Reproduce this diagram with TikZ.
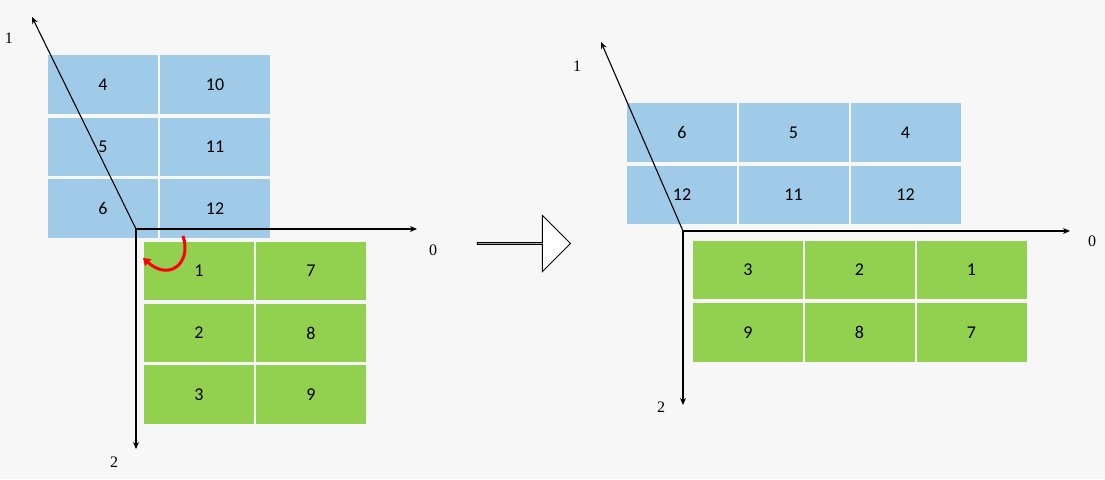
\documentclass[tikz,border=0pt]{standalone}
\usepackage{fontspec}
\setmainfont{Carlito}
\newfontfamily\axfont{Liberation Serif}
\usetikzlibrary{arrows.meta,shapes.arrows}
\definecolor{bg}{HTML}{F7F7F7}
\definecolor{bl}{HTML}{A0CBE8}
\definecolor{gr}{HTML}{92D050}
\begin{document}
\begin{tikzpicture}[x=1pt,y=-1pt,
  cell/.style={draw=none,minimum width=110pt,minimum height=58.5pt,inner sep=0,font=\fontsize{18}{20}\selectfont},
  b/.style={cell,fill=bl},
  g/.style={cell,fill=gr},
  ax/.style={line width=1.1pt,-{Stealth[length=7pt,width=6pt]}},
  lab/.style={font=\axfont\fontsize{16}{18}\selectfont}]
\fill[bg] (0,0) rectangle (1105,479);
\useasboundingbox (0,0) rectangle (1105,479);
% left blue
\node[b] (l4) at (103,84.5) {4};
\node[b] (l10) at (215,84.5) {10};
\node[b] (l5) at (103,147) {5};
\node[b] (l11) at (215,147) {11};
\node[b] (l6) at (103,208.5) {6};
\node[b] (l12) at (215,208.5) {12};
% left green
\node[g] (g1) at (199,271) {1};
\node[g] (g7) at (311,271) {7};
\node[g] (g2) at (199,333) {2};
\node[g] (g8) at (311,333) {8};
\node[g] (g3) at (199,394.5) {3};
\node[g] (g9) at (311,394.5) {9};
% left axes
\coordinate (o1) at (136,229);
\coordinate (e0) at (417,229);
\coordinate (e1) at (32,17);
\coordinate (e2) at (136,449);
\draw[ax] (o1) -- (e0);
\draw[ax] (o1) -- (e1);
\draw[ax] (o1) -- (e2);
\node[lab] (t1) at (9,38) {1};
\node[lab] (t0) at (433,250) {0};
\node[lab] (t2) at (114,462) {2};
% red arrow
\coordinate (ra) at (183,236);
\coordinate (rb) at (143,258);
\draw[red,line width=3pt,-{Triangle[length=7pt,width=9pt]}] (ra) .. controls (192,262) and (170,282) .. (rb);
% hollow arrow
\node[single arrow,draw=black,fill=white,line width=1pt,minimum width=56pt,minimum height=93pt,single arrow head extend=14pt,single arrow tip angle=90,inner sep=0] (big) at (523.5,243.5) {};
% right blue
\node[b] (r6) at (682,132.5) {6};
\node[b] (r5) at (793.5,132.5) {5};
\node[b] (r4) at (905.5,132.5) {4};
\node[b] (r12a) at (682,195) {12};
\node[b] (r11) at (793.5,195) {11};
\node[b] (r12b) at (905.5,195) {12};
% right green
\node[g] (h3) at (748,270) {3};
\node[g] (h2) at (859.5,270) {2};
\node[g] (h1) at (971.5,270) {1};
\node[g] (h9) at (748,332.5) {9};
\node[g] (h8) at (859.5,332.5) {8};
\node[g] (h7) at (971.5,332.5) {7};
% right axes
\coordinate (o2) at (683,231);
\coordinate (f0) at (1070,231);
\coordinate (f1) at (601,42);
\coordinate (f2) at (683,405);
\draw[ax] (o2) -- (f0);
\draw[ax] (o2) -- (f1);
\draw[ax] (o2) -- (f2);
\node[lab] (u1) at (577,66) {1};
\node[lab] (u0) at (1092,241) {0};
\node[lab] (u2) at (661,407) {2};
\end{tikzpicture}
\end{document}
